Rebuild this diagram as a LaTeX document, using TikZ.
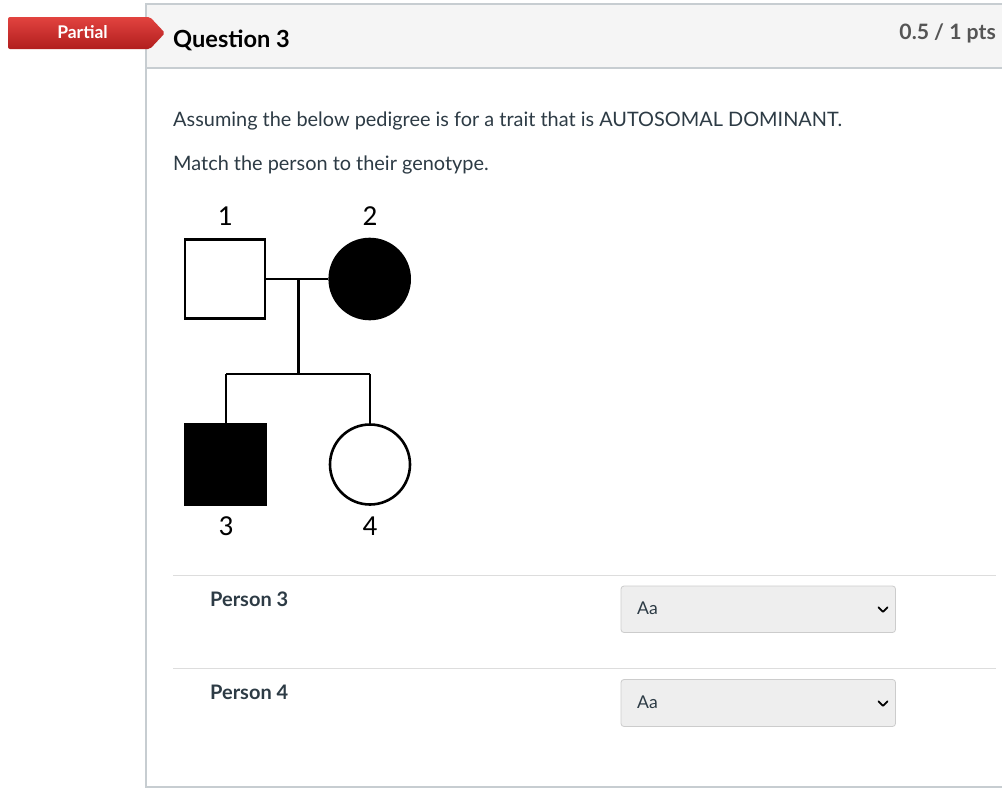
\documentclass[tikz,border=0pt]{standalone}
\usepackage{fontspec}
\setmainfont{Lato}
\newfontfamily\calib{Carlito}
\usetikzlibrary{shapes.geometric,calc}
\definecolor{cvtext}{HTML}{2D3B45}
\definecolor{cvborder}{HTML}{C7CDD1}
\definecolor{cvhead}{HTML}{F5F5F5}
\definecolor{cvsep}{HTML}{DDDDDD}
\definecolor{selbg}{HTML}{EEEEEE}
\definecolor{selborder}{HTML}{CCCCCC}
\definecolor{redtop}{HTML}{E2433F}
\definecolor{redbot}{HTML}{B11E1E}
\definecolor{ptsgray}{HTML}{555555}
\tikzset{
  ped/.style={draw=black, line width=2.6pt},
  pedline/.style={draw=black, line width=2.6pt},
  pednum/.style={font=\calib\fontsize{29}{34}\selectfont, anchor=base},
  body/.style={font=\fontsize{19.9}{23}\selectfont, text=cvtext, anchor=base west, inner sep=0pt},
  label/.style={font=\bfseries\fontsize{20}{23}\selectfont, text=cvtext, anchor=base west, inner sep=0pt},
  selbox/.style={draw=selborder, fill=selbg, rounded corners=3pt, line width=0.8pt},
  seltext/.style={font=\fontsize{17.6}{20}\selectfont, text=cvtext, anchor=base west, inner sep=0pt},
  chev/.style={draw=black, line width=1.8pt, line cap=round, line join=round},
  sep/.style={draw=cvsep, line width=1pt}
}
\begin{document}
\begin{tikzpicture}[x=1pt,y=-1pt]
\useasboundingbox (0,0) rectangle (1002,795);
\fill[white] (0,0) rectangle (1002,795);
% card
\fill[cvhead] (146,4) rectangle (1002,68);
\draw[cvborder, line width=1.2pt] (1002,4) -- (146,4) -- (146,787) -- (1002,787);
\draw[cvborder, line width=1.2pt] (146,68) -- (1002,68);
% partial tag
\shade[top color=redtop, bottom color=redbot, rounded corners=2pt] (8,17) -- (150,17) -- (165,33) -- (150,49) -- (8,49) -- cycle;
\node[font=\bfseries\fontsize{17.5}{20}\selectfont, text=white, anchor=base, inner sep=0pt] (tag) at (82.5,38.5) {Partial};
\node[font=\bfseries\fontsize{23.6}{27}\selectfont, text=black, anchor=base west, inner sep=0pt] (qtitle) at (173,47) {Question 3};
\node[font=\bfseries\fontsize{21.2}{25}\selectfont, text=ptsgray, anchor=base east, inner sep=0pt] (pts) at (996,39.5) {0.5 / 1 pts};
% body text
\node[body] (t1) at (173,126.5) {Assuming the below pedigree is for a trait that is AUTOSOMAL DOMINANT.};
\node[body] (t2) at (173,170.5) {Match the person to their genotype.};
% pedigree
\node[pednum] (n1) at (225,225) {1};
\node[pednum] (n2) at (370,225) {2};
\node[ped, fill=white, rectangle, minimum width=80pt, minimum height=79pt, inner sep=0pt] (p1) at (225,279) {};
\node[ped, fill=black, circle, minimum size=80pt, inner sep=0pt] (p2) at (369.7,279) {};
\coordinate (mid) at (298.7,279);
\coordinate (sib) at (298.7,374);
\coordinate (sibL) at (226,374);
\coordinate (sibR) at (370,374);
\node[ped, fill=black, rectangle, minimum width=81pt, minimum height=81pt, inner sep=0pt] (p3) at (225.5,464.5) {};
\node[ped, fill=white, circle, minimum size=80pt, inner sep=0pt] (p4) at (370,464.5) {};
\draw[pedline] (p1.east) -- (p2.west);
\draw[pedline] (mid) -- (sib);
\draw[pedline] (sibL) -- (sibR);
\draw[pedline] (sibL) -- (sibL |- p3.north);
\draw[pedline] (sibR) -- (p4.north);
\node[pednum] (n3) at (226,535) {3};
\node[pednum] (n4) at (370,535) {4};
% answers
\draw[sep] (173,575.5) -- (996,575.5);
\draw[sep] (173,668.5) -- (996,668.5);
\node[label] (l3) at (210,606.5) {Person 3};
\node[label] (l4) at (210,699.5) {Person 4};
\draw[selbox] (621,586) rectangle (895.5,632.5);
\node[seltext] (s3) at (637,614.5) {Aa};
\coordinate (c3) at (883,609.5);
\draw[chev] ($(c3)+(-4.5,-2.2)$) -- ($(c3)+(0,2.3)$) -- ($(c3)+(4.5,-2.2)$);
\draw[selbox] (621,679.5) rectangle (895.5,726.5);
\node[seltext] (s4) at (637,708.5) {Aa};
\coordinate (c4) at (883,703.5);
\draw[chev] ($(c4)+(-4.5,-2.2)$) -- ($(c4)+(0,2.3)$) -- ($(c4)+(4.5,-2.2)$);
\end{tikzpicture}
\end{document}
